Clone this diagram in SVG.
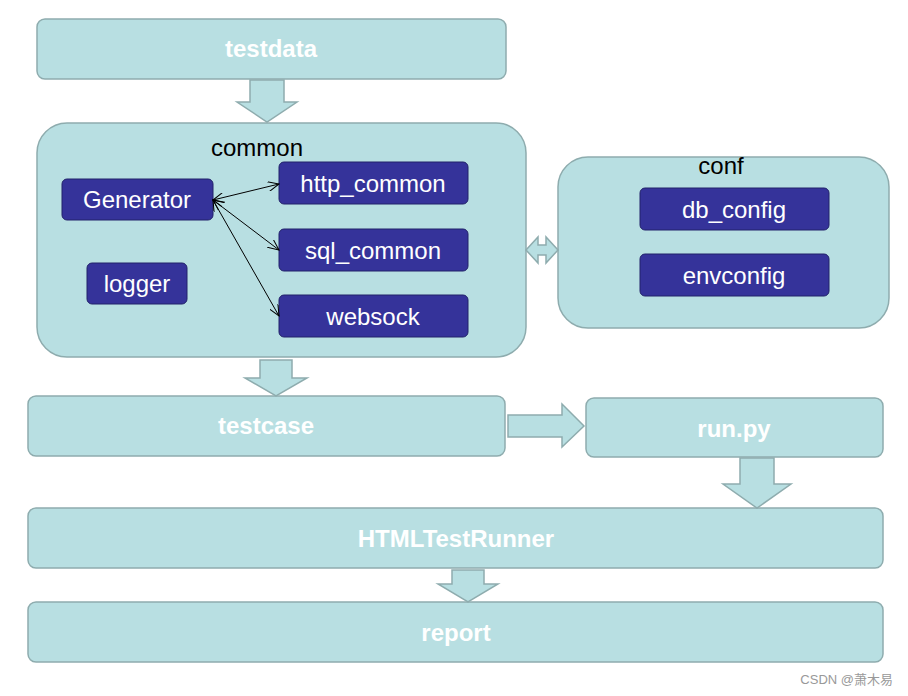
<svg xmlns="http://www.w3.org/2000/svg" width="908" height="696" viewBox="0 0 908 696">
<style>
.box{fill:#b8dfe2;stroke:#8eacae;stroke-width:1.5}
.blk{fill:#b8dfe2;stroke:#8eacae;stroke-width:1.5}
.in{fill:#35339a;stroke:#22226a;stroke-width:1}
.tb{font-family:"Liberation Sans",Arial,sans-serif;font-weight:bold;font-size:24px;fill:#fff;text-anchor:middle}
.tw{font-family:"Liberation Sans",Arial,sans-serif;font-size:24px;fill:#fff;text-anchor:middle}
.tk{font-family:"Liberation Sans",Arial,sans-serif;font-size:24px;fill:#000;text-anchor:middle}
.ln{stroke:#000;stroke-width:1;fill:none;marker-start:url(#ah);marker-end:url(#ah)}
</style>
<defs>
<marker id="ah" viewBox="0 0 12 10" refX="11" refY="5" markerWidth="12" markerHeight="10" markerUnits="userSpaceOnUse" orient="auto-start-reverse"><path d="M0,0 L11,5 L0,10" fill="none" stroke="#000" stroke-width="1"/></marker>
</defs>
<rect width="908" height="696" fill="#fff"/>
<g id="testdata"><rect class="box" x="37" y="19" width="469" height="60" rx="8"/><text class="tb" x="271" y="57">testdata</text></g>
<g id="common"><rect class="box" x="37" y="123" width="489" height="234" rx="30"/><text class="tk" x="257" y="156">common</text></g>
<g id="conf"><rect class="box" x="558" y="157" width="331" height="171" rx="30"/><text class="tk" x="721" y="174">conf</text></g>
<g id="generator"><rect class="in" x="62" y="179" width="151" height="41" rx="5"/><text class="tw" x="137" y="208">Generator</text></g>
<g id="logger"><rect class="in" x="87" y="263" width="100" height="41" rx="5"/><text class="tw" x="137" y="292">logger</text></g>
<g id="http_common"><rect class="in" x="279" y="162" width="189" height="42" rx="5"/><text class="tw" x="373" y="192">http_common</text></g>
<g id="sql_common"><rect class="in" x="279" y="229" width="189" height="42" rx="5"/><text class="tw" x="373" y="259">sql_common</text></g>
<g id="websock"><rect class="in" x="279" y="295" width="189" height="42" rx="5"/><text class="tw" x="373" y="325">websock</text></g>
<g id="db_config"><rect class="in" x="640" y="188" width="189" height="42" rx="5"/><text class="tw" x="734" y="218">db_config</text></g>
<g id="envconfig"><rect class="in" x="640" y="254" width="189" height="42" rx="5"/><text class="tw" x="734" y="284">envconfig</text></g>
<g id="testcase"><rect class="box" x="28" y="396" width="477" height="60" rx="8"/><text class="tb" x="266" y="434">testcase</text></g>
<g id="runpy"><rect class="box" x="586" y="398" width="297" height="59" rx="8"/><text class="tb" x="734" y="437">run.py</text></g>
<g id="htmltestrunner"><rect class="box" x="28" y="508" width="855" height="60" rx="8"/><text class="tb" x="456" y="547">HTMLTestRunner</text></g>
<g id="report"><rect class="box" x="28" y="602" width="855" height="60" rx="8"/><text class="tb" x="456" y="641">report</text></g>
<g id="connectors">
<path class="blk" d="M250,80 H284 V102 H297 L267,122 L237,102 H250 Z"/>
<path class="blk" d="M260,360 H292 V378 H307 L276,396 L245,378 H260 Z"/>
<path class="blk" d="M508,415 H562 V404 L584,426 L562,447 V437 H508 Z"/>
<path class="blk" d="M740,458 H774 V484 H791 L757,508 L723,484 H740 Z"/>
<path class="blk" d="M452,570 H484 V584 H498 L468,602 L438,584 H452 Z"/>
<path class="blk" d="M526,250 L538,237 V245 H546 V237 L558,250 L546,263 V255 H538 V263 Z"/>
<line class="ln" x1="213" y1="200" x2="279" y2="184"/>
<line class="ln" x1="213" y1="200" x2="279" y2="250"/>
<line class="ln" x1="213" y1="200" x2="279" y2="316"/>
</g>
<text x="893" y="684" font-family="'Liberation Sans','Noto Sans CJK SC',sans-serif" font-size="13" fill="#999" text-anchor="end">CSDN @萧木易</text>
</svg>
